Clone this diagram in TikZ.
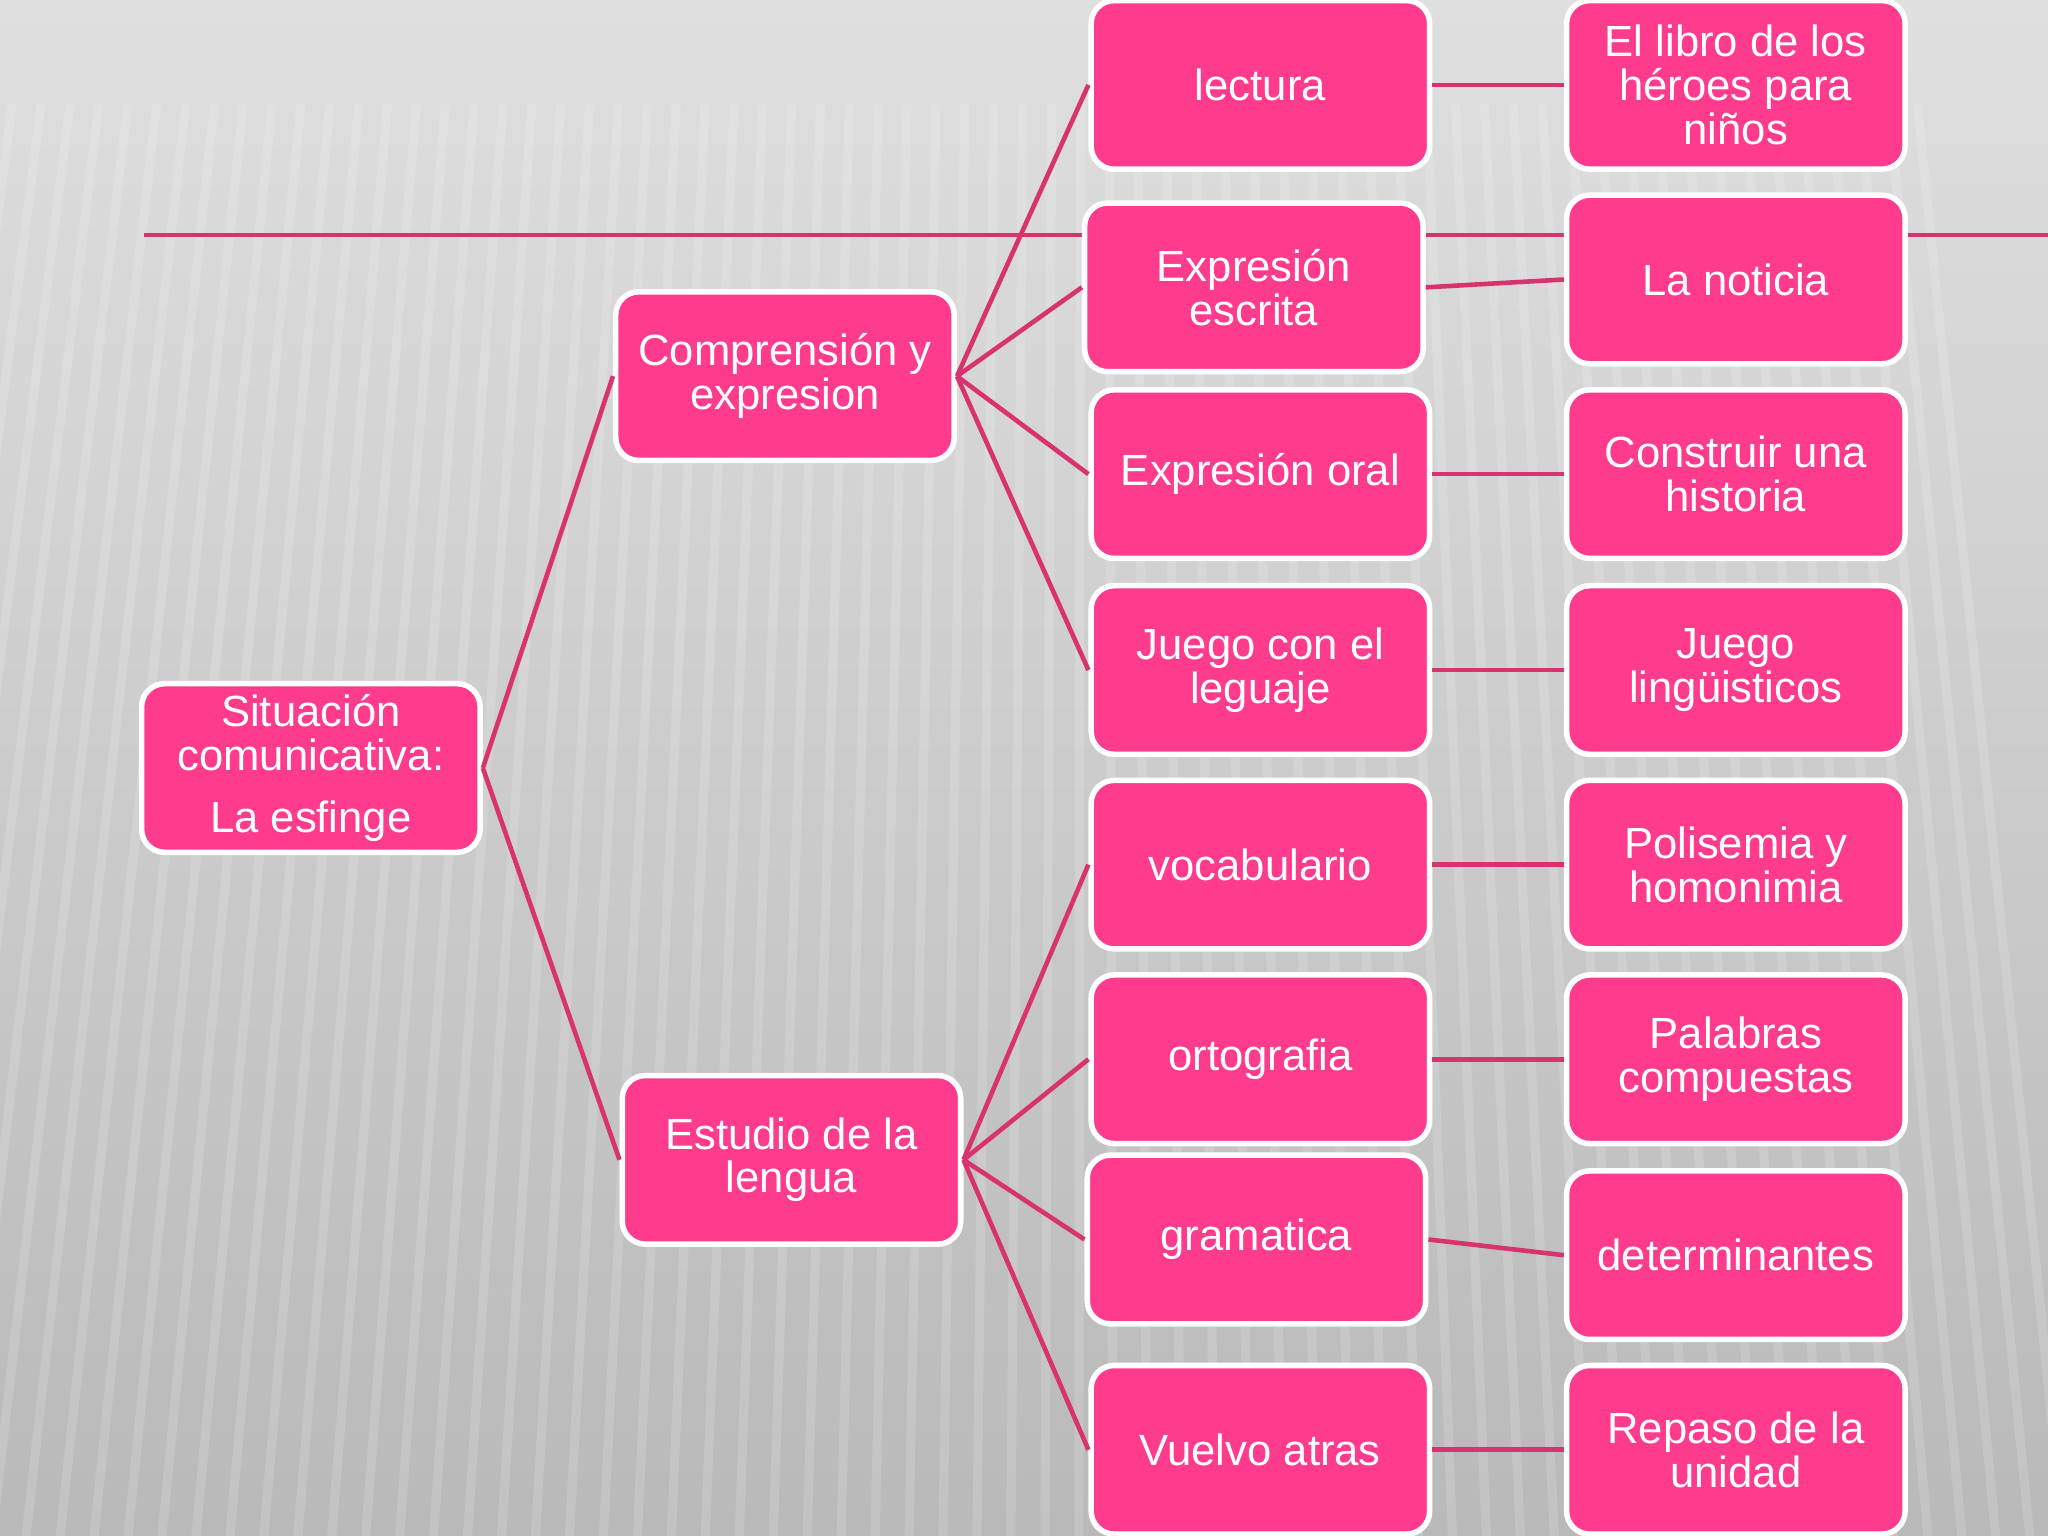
\documentclass[tikz,border=0pt]{standalone}
\usepackage{fontspec}
\setmainfont{Liberation Sans}
\begin{document}
\begin{tikzpicture}[x=0.01cm,y=-0.01cm,
  box/.style={draw=white,line width=1.2pt,fill=pinkc,rounded corners=5pt,minimum width=2.59cm,minimum height=1.29cm,text=white,align=center,font=\fontsize{9.5}{9.5}\selectfont,inner sep=2pt},
  ln/.style={draw=linec,line width=1pt}]
\definecolor{pinkc}{HTML}{FF3B8D}
\definecolor{linec}{HTML}{D9336F}
\useasboundingbox (0,0) rectangle (1568,1176);
\begin{scope}
\clip (0,0) rectangle (1568,1176);
\shade[top color=gray!25,bottom color=gray!55] (0,0) rectangle (1568,1176);
\foreach \i in {0,...,80}{\draw[white,opacity=0.15,line width=2pt] (\i*26-500,1176) -- (\i*26*0.85-300,80);}
\end{scope}
\coordinate (l0) at (110,180); \coordinate (l1) at (831,180);
\coordinate (l2) at (1090,180); \coordinate (l3) at (1200,180);
\coordinate (l4) at (1459,180); \coordinate (l5) at (1568,180);
\draw[ln] (l0)--(l1) (l2)--(l3) (l4)--(l5);
\node[box] (r) at (238,588) {Situación\\comunicativa:\\[4pt]La esfinge};
\node[box] (c) at (601,288) {Comprensión y\\expresion};
\node[box] (e) at (606,888) {Estudio de la\\lengua};
\node[box] (a1) at (965,65) {lectura};
\node[box] (a2) at (960,220) {Expresión\\escrita};
\node[box] (a3) at (965,363) {Expresión oral};
\node[box] (a4) at (965,513) {Juego con el\\leguaje};
\node[box] (a5) at (965,662) {vocabulario};
\node[box] (a6) at (965,811) {ortografia};
\node[box] (a7) at (962,949) {gramatica};
\node[box] (a8) at (965,1110) {Vuelvo atras};
\node[box] (b1) at (1329,65) {El libro de los\\héroes para\\niños};
\node[box] (b2) at (1329,214) {La noticia};
\node[box] (b3) at (1329,363) {Construir una\\historia};
\node[box] (b4) at (1329,513) {Juego\\lingüisticos};
\node[box] (b5) at (1329,662) {Polisemia y\\homonimia};
\node[box] (b6) at (1329,811) {Palabras\\compuestas};
\node[box] (b7) at (1329,961) {determinantes};
\node[box] (b8) at (1329,1110) {Repaso de la\\unidad};
\draw[ln] (r.east)--(c.west) (r.east)--(e.west);
\foreach \k in {1,2,3,4}{\draw[ln] (c.east)--(a\k.west);}
\foreach \k in {5,6,7,8}{\draw[ln] (e.east)--(a\k.west);}
\foreach \k in {1,...,8}{\draw[ln] (a\k.east)--(b\k.west);}
\end{tikzpicture}
\end{document}
